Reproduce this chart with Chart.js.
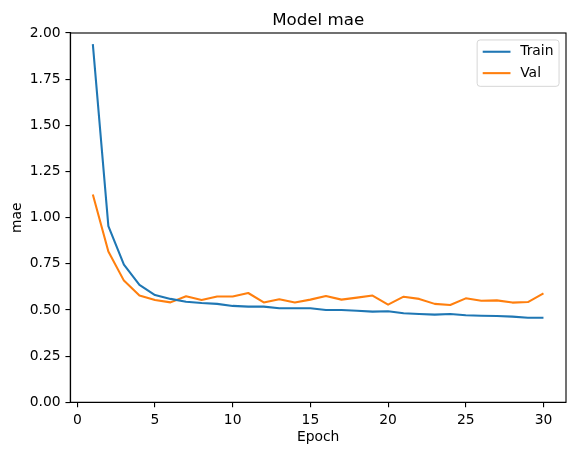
<!DOCTYPE html>
<html>
<head>
<meta charset="utf-8">
<title>Model mae</title>
<script src="https://cdn.jsdelivr.net/npm/chart.js@4/dist/chart.umd.min.js"></script>
<style>
  html, body { margin: 0; padding: 0; background: #fff; }
  #wrap { width: 576px; height: 455px; }
</style>
</head>
<body>
<div id="wrap"><canvas id="maeChart" width="576" height="455"></canvas></div>
<script>
// Valeurs
const epochs = [1, 2, 3, 4, 5, 6, 7, 8, 9, 10, 11, 12, 13, 14, 15,
                16, 17, 18, 19, 20, 21, 22, 23, 24, 25, 26, 27, 28, 29, 30];
const trainMae = [1.94, 0.954, 0.746, 0.636, 0.581, 0.560, 0.545, 0.538, 0.533, 0.522,
                  0.518, 0.518, 0.509, 0.509, 0.509, 0.500, 0.500, 0.496, 0.491, 0.493,
                  0.482, 0.478, 0.475, 0.478, 0.471, 0.469, 0.467, 0.464, 0.458, 0.458];
const valMae = [1.125, 0.817, 0.659, 0.579, 0.554, 0.541, 0.574, 0.554, 0.573, 0.573,
                0.592, 0.541, 0.558, 0.541, 0.556, 0.576, 0.556, 0.567, 0.578, 0.529,
                0.572, 0.560, 0.533, 0.527, 0.563, 0.550, 0.552, 0.540, 0.543, 0.590];
const xTicks = [0, 5, 10, 15, 20, 25, 30];
const yTicks = [0, 0.25, 0.5, 0.75, 1.0, 1.25, 1.5, 1.75, 2.0];

const FONT = 'DejaVu Sans';
const PT = 100 / 72; // 1pt en px a 100 dpi

Chart.defaults.font.family = FONT;
Chart.defaults.font.size = 10 * PT;
Chart.defaults.color = '#000';

// Cadre complet autour de la zone de tracé (comme matplotlib)
const frameBox = {
    id: 'frameBox',
    afterDatasetsDraw(chart) {
        const { ctx, chartArea: a } = chart;
        ctx.save();
        ctx.strokeStyle = '#000';
        ctx.lineWidth = 0.8 * PT;
        ctx.strokeRect(a.left, a.top, a.right - a.left, a.bottom - a.top);
        ctx.restore();
    }
};

// Légende dans le coin supérieur droit
const innerLegend = {
    id: 'innerLegend',
    afterDraw(chart) {
        const { ctx, chartArea: a } = chart;
        const fs = 10 * PT;
        const sets = chart.data.datasets;
        ctx.save();
        ctx.font = fs + 'px "' + FONT + '"';
        const textW = Math.max(...sets.map(d => ctx.measureText(d.label).width));
        const pad = 0.4 * fs, handle = 2.0 * fs, gap = 0.7 * fs, rowH = 1.54 * fs;
        const w = pad * 2 + handle + gap + textW;
        const h = pad * 2 + rowH * (sets.length - 1) + 1.0 * fs;
        const x = a.right - 0.5 * fs - w;
        const y = a.top + 0.5 * fs;

        ctx.beginPath();
        ctx.roundRect(x, y, w, h, 3);
        ctx.fillStyle = 'rgba(255,255,255,0.8)';
        ctx.fill();
        ctx.strokeStyle = 'rgba(204,204,204,0.8)';
        ctx.lineWidth = 1;
        ctx.stroke();

        sets.forEach((d, i) => {
            const cy = y + pad + 0.45 * fs + i * rowH;
            ctx.beginPath();
            ctx.moveTo(x + pad, cy);
            ctx.lineTo(x + pad + handle, cy);
            ctx.strokeStyle = d.borderColor;
            ctx.lineWidth = 1.5 * PT;
            ctx.stroke();
            ctx.fillStyle = '#000';
            ctx.textBaseline = 'middle';
            ctx.textAlign = 'left';
            ctx.fillText(d.label, x + pad + handle + gap, cy);
        });
        ctx.restore();
    }
};

function toPoints(values) {
    return epochs.map((e, i) => ({ x: e, y: values[i] }));
}

const ctx = document.getElementById('maeChart').getContext('2d');
new Chart(ctx, {
    type: 'line',
    data: {
        datasets: [{
            label: 'Train',
            data: toPoints(trainMae),
            borderColor: '#1f77b4',
            borderWidth: 1.5 * PT,
            pointRadius: 0,
            tension: 0,
            borderJoinStyle: 'round'
        }, {
            label: 'Val',
            data: toPoints(valMae),
            borderColor: '#ff7f0e',
            borderWidth: 1.5 * PT,
            pointRadius: 0,
            tension: 0,
            borderJoinStyle: 'round'
        }]
    },
    options: {
        responsive: false,
        animation: false,
        devicePixelRatio: 1,
        layout: { padding: { left: 0, right: 10, top: 0, bottom: 0 } },
        plugins: {
            legend: { display: false },
            tooltip: { enabled: false },
            title: {
                display: true,
                text: 'Model mae',
                fullSize: false,
                color: '#000',
                font: { family: FONT, size: 12 * PT, weight: 'normal', lineHeight: 1.2 },
                padding: { top: 10.8, bottom: 2.2 }
            }
        },
        scales: {
            x: {
                type: 'linear',
                min: -0.45,
                max: 31.45,
                afterBuildTicks(scale) {
                    scale.ticks = xTicks.map(v => ({ value: v }));
                },
                afterFit(scale) { scale.height = 52.7; },
                grid: { drawOnChartArea: false, drawTicks: true, tickLength: 3.5 * PT, color: '#000', lineWidth: 0.8 * PT },
                border: { display: true, color: '#000', width: 0.8 * PT },
                ticks: { padding: 3.5 * PT, color: '#000', maxRotation: 0 },
                title: {
                    display: true,
                    text: 'Epoch',
                    color: '#000',
                    font: { family: FONT, size: 10 * PT, lineHeight: 1.2 },
                    padding: { top: 0, bottom: 9.2 }
                }
            },
            y: {
                min: 0,
                max: 2,
                afterBuildTicks(scale) {
                    scale.ticks = yTicks.map(v => ({ value: v }));
                },
                afterFit(scale) { scale.width = 70.3; },
                grid: { drawOnChartArea: false, drawTicks: true, tickLength: 3.5 * PT, color: '#000', lineWidth: 0.8 * PT },
                border: { display: true, color: '#000', width: 0.8 * PT },
                ticks: {
                    padding: 3.5 * PT,
                    color: '#000',
                    callback: v => v.toFixed(2)
                },
                title: {
                    display: true,
                    text: 'mae',
                    color: '#000',
                    font: { family: FONT, size: 10 * PT, lineHeight: 1.2 },
                    padding: { top: 8.7, bottom: 0 }
                }
            }
        }
    },
    plugins: [frameBox, innerLegend]
});
</script>
</body>
</html>
